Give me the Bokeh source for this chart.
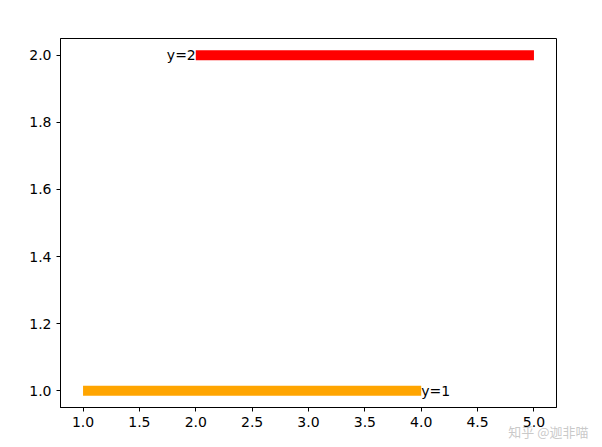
from bokeh.plotting import figure
from bokeh.models import FixedTicker, Range1d, Title
from bokeh.core.properties import value
from bokeh.embed import file_html
from bokeh.resources import INLINE

# data
y_levels = [1, 2]
x_starts = [1, 2]
x_ends = [4, 5]
colors = ["orange", "red"]
labels = ["y=1", "y=2"]
x_ticks = [1.0, 1.5, 2.0, 2.5, 3.0, 3.5, 4.0, 4.5, 5.0]
y_ticks = [1.0, 1.2, 1.4, 1.6, 1.8, 2.0]
watermark = "知乎 @迦非喵"

FONT = "DejaVu Sans"

p = figure(width=594, height=439, output_backend="svg", toolbar_location=None,
           x_range=Range1d(0.8, 5.2), y_range=Range1d(0.95, 2.05),
           min_border_left=60, min_border_right=38, min_border_top=38, min_border_bottom=32)
p.xgrid.visible = False
p.ygrid.visible = False
p.outline_line_color = "black"
p.outline_line_width = 1
p.background_fill_color = "white"
p.border_fill_color = "white"

for ax, ticks in ((p.xaxis, x_ticks), (p.yaxis, y_ticks)):
    ax.ticker = FixedTicker(ticks=ticks)
    ax.minor_tick_line_color = None
    ax.major_tick_out = 4
    ax.major_tick_in = 0
    ax.major_label_text_font = FONT
    ax.major_label_text_font_size = "14px"
    ax.major_label_text_color = "black"
    ax.axis_line_color = "black"
    ax.major_tick_line_color = "black"
    ax.major_label_standoff = 5
p.xaxis.major_label_overrides = {t: f"{t:.1f}" for t in x_ticks}
p.yaxis.major_label_overrides = {t: f"{t:.1f}" for t in y_ticks}

p.segment(x0=x_starts, y0=y_levels, x1=x_ends, y1=y_levels,
          line_color=colors, line_width=10, line_cap="butt")

p.text(x=[x_ends[0]], y=[y_levels[0]], text=[labels[0]], text_align="left",
       text_baseline="middle", text_font=value(FONT), text_font_size="14px",
       text_color="black")
p.text(x=[x_starts[1]], y=[y_levels[1]], text=[labels[1]], text_align="right",
       text_baseline="middle", text_font=value(FONT), text_font_size="14px",
       text_color="black")

wm = Title(text=watermark, align="right", offset=-32, standoff=-20,
           text_font="Noto Sans CJK SC", text_font_size="13px", text_color="#bbbbbb",
           text_alpha=0.8, text_font_style="normal")
p.add_layout(wm, "below")

open("out.html", "w").write(file_html(p, INLINE))
